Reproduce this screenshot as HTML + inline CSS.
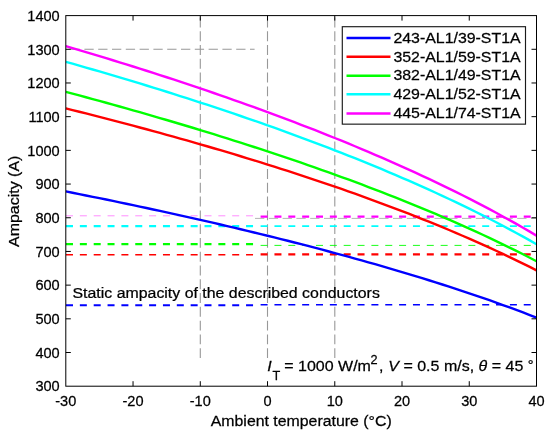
<!DOCTYPE html>
<html><head><meta charset="utf-8"><title>Ampacity</title>
<style>html,body{margin:0;padding:0;background:#fff}svg{display:block}text{stroke:#000;stroke-width:0.25px;font-family:"Liberation Sans",Arial,sans-serif;fill:#000}</style></head><body>
<svg width="550" height="431" viewBox="0 0 550 431">
<rect width="550" height="431" fill="#fff"/>
<line x1="200.3" y1="358.1" x2="200.3" y2="15.6" stroke="#989898" stroke-width="1.1" fill="none" stroke-dasharray="9.9 3.88"/>
<line x1="267.5" y1="358.1" x2="267.5" y2="15.6" stroke="#989898" stroke-width="1.1" fill="none" stroke-dasharray="9.9 3.88"/>
<line x1="334.8" y1="358.1" x2="334.8" y2="15.6" stroke="#989898" stroke-width="1.1" fill="none" stroke-dasharray="9.9 3.88"/>
<line x1="65.8" y1="49.3" x2="254.6" y2="49.3" stroke="#989898" stroke-width="1.1" fill="none" stroke-dasharray="9.3 4.5" stroke-dashoffset="9.0"/>
<line x1="255" y1="218.4" x2="536.5" y2="218.4" stroke="#b4b4b4" stroke-width="1" stroke-dasharray="9.3 4.5"/>
<line x1="66" y1="215.8" x2="256.5" y2="215.8" stroke="#ff00ff" stroke-width="1.0" stroke-opacity="0.45" stroke-dasharray="7 6.85" stroke-dashoffset="0"/>
<line x1="260.6" y1="216.6" x2="536.5" y2="216.6" stroke="#ff00ff" stroke-width="2.2" stroke-opacity="1" stroke-dasharray="7 6.85" stroke-dashoffset="0"/>
<line x1="66" y1="226.2" x2="256.5" y2="226.2" stroke="#00ffff" stroke-width="2.2" stroke-opacity="1" stroke-dasharray="7 6.85" stroke-dashoffset="0"/>
<line x1="260.6" y1="226.2" x2="536.5" y2="226.2" stroke="#00ffff" stroke-width="1.7" stroke-opacity="1" stroke-dasharray="7 6.85" stroke-dashoffset="0"/>
<line x1="66" y1="244.2" x2="256.5" y2="244.2" stroke="#00ff00" stroke-width="2.2" stroke-opacity="1" stroke-dasharray="7 6.85" stroke-dashoffset="0"/>
<line x1="260.6" y1="245.4" x2="536.5" y2="245.4" stroke="#00ff00" stroke-width="0.9" stroke-opacity="1" stroke-dasharray="7 6.85" stroke-dashoffset="0"/>
<line x1="66" y1="254.8" x2="256.5" y2="254.8" stroke="#ff0000" stroke-width="1.5" stroke-opacity="1" stroke-dasharray="7 6.85" stroke-dashoffset="0"/>
<line x1="260.6" y1="254.3" x2="536.5" y2="254.3" stroke="#ff0000" stroke-width="2.2" stroke-opacity="1" stroke-dasharray="7 6.85" stroke-dashoffset="0"/>
<line x1="66" y1="305.2" x2="256.5" y2="305.2" stroke="#0000ff" stroke-width="2.0" stroke-opacity="1" stroke-dasharray="7 6.85" stroke-dashoffset="0"/>
<line x1="260.6" y1="304.8" x2="536.5" y2="304.8" stroke="#0000ff" stroke-width="1.5" stroke-opacity="1" stroke-dasharray="7 6.85" stroke-dashoffset="0"/>
<clipPath id="cp"><rect x="65.8" y="15.6" width="470.7" height="370.59999999999997"/></clipPath>
<g clip-path="url(#cp)" fill="none" stroke-width="2.4" stroke-linejoin="round">
<path d="M65.80,191.42 L72.52,192.76 L79.25,194.10 L85.97,195.45 L92.70,196.81 L99.42,198.18 L106.15,199.55 L112.87,200.94 L119.59,202.34 L126.32,203.74 L133.04,205.16 L139.77,206.58 L146.49,208.02 L153.22,209.46 L159.94,210.92 L166.66,212.38 L173.39,213.86 L180.11,215.35 L186.84,216.85 L193.56,218.36 L200.29,219.88 L207.01,221.41 L213.73,222.95 L220.46,224.51 L227.18,226.08 L233.91,227.66 L240.63,229.25 L247.36,230.86 L254.08,232.48 L260.80,234.11 L267.53,235.76 L274.25,237.42 L280.98,239.09 L287.70,240.78 L294.43,242.49 L301.15,244.21 L307.87,245.94 L314.60,247.69 L321.32,249.46 L328.05,251.24 L334.77,253.04 L341.50,254.85 L348.22,256.69 L354.94,258.54 L361.67,260.41 L368.39,262.30 L375.12,264.21 L381.84,266.14 L388.57,268.09 L395.29,270.06 L402.01,272.05 L408.74,274.06 L415.46,276.10 L422.19,278.16 L428.91,280.25 L435.64,282.35 L442.36,284.49 L449.08,286.65 L455.81,288.84 L462.53,291.06 L469.26,293.30 L475.98,295.58 L482.71,297.89 L489.43,300.23 L496.15,302.61 L502.88,305.02 L509.60,307.46 L516.33,309.95 L523.05,312.47 L529.78,315.04 L536.50,317.64" stroke="#0000ff"/>
<path d="M65.80,108.37 L72.52,110.04 L79.25,111.73 L85.97,113.43 L92.70,115.14 L99.42,116.86 L106.15,118.60 L112.87,120.35 L119.59,122.11 L126.32,123.88 L133.04,125.67 L139.77,127.47 L146.49,129.28 L153.22,131.11 L159.94,132.95 L166.66,134.81 L173.39,136.68 L180.11,138.57 L186.84,140.47 L193.56,142.38 L200.29,144.32 L207.01,146.26 L213.73,148.23 L220.46,150.21 L227.18,152.20 L233.91,154.21 L240.63,156.24 L247.36,158.29 L254.08,160.36 L260.80,162.44 L267.53,164.54 L274.25,166.66 L280.98,168.80 L287.70,170.96 L294.43,173.14 L301.15,175.34 L307.87,177.56 L314.60,179.80 L321.32,182.06 L328.05,184.35 L334.77,186.66 L341.50,188.99 L348.22,191.35 L354.94,193.73 L361.67,196.13 L368.39,198.56 L375.12,201.02 L381.84,203.51 L388.57,206.02 L395.29,208.56 L402.01,211.13 L408.74,213.73 L415.46,216.36 L422.19,219.02 L428.91,221.72 L435.64,224.45 L442.36,227.21 L449.08,230.01 L455.81,232.85 L462.53,235.73 L469.26,238.64 L475.98,241.60 L482.71,244.60 L489.43,247.64 L496.15,250.73 L502.88,253.87 L509.60,257.06 L516.33,260.30 L523.05,263.59 L529.78,266.94 L536.50,270.35" stroke="#ff0000"/>
<path d="M65.80,91.81 L72.52,93.61 L79.25,95.41 L85.97,97.23 L92.70,99.06 L99.42,100.90 L106.15,102.75 L112.87,104.61 L119.59,106.49 L126.32,108.38 L133.04,110.28 L139.77,112.20 L146.49,114.13 L153.22,116.07 L159.94,118.03 L166.66,120.00 L173.39,121.98 L180.11,123.98 L186.84,125.99 L193.56,128.02 L200.29,130.07 L207.01,132.13 L213.73,134.20 L220.46,136.29 L227.18,138.40 L233.91,140.52 L240.63,142.66 L247.36,144.82 L254.08,146.99 L260.80,149.19 L267.53,151.40 L274.25,153.63 L280.98,155.87 L287.70,158.14 L294.43,160.43 L301.15,162.74 L307.87,165.06 L314.60,167.41 L321.32,169.78 L328.05,172.18 L334.77,174.59 L341.50,177.03 L348.22,179.49 L354.94,181.97 L361.67,184.48 L368.39,187.02 L375.12,189.58 L381.84,192.17 L388.57,194.78 L395.29,197.43 L402.01,200.10 L408.74,202.80 L415.46,205.53 L422.19,208.30 L428.91,211.09 L435.64,213.92 L442.36,216.78 L449.08,219.68 L455.81,222.62 L462.53,225.59 L469.26,228.60 L475.98,231.66 L482.71,234.75 L489.43,237.89 L496.15,241.08 L502.88,244.31 L509.60,247.59 L516.33,250.92 L523.05,254.30 L529.78,257.74 L536.50,261.24" stroke="#00ff00"/>
<path d="M65.80,61.81 L72.52,63.71 L79.25,65.63 L85.97,67.55 L92.70,69.49 L99.42,71.45 L106.15,73.41 L112.87,75.40 L119.59,77.39 L126.32,79.40 L133.04,81.42 L139.77,83.46 L146.49,85.52 L153.22,87.59 L159.94,89.67 L166.66,91.77 L173.39,93.89 L180.11,96.02 L186.84,98.17 L193.56,100.33 L200.29,102.52 L207.01,104.72 L213.73,106.93 L220.46,109.17 L227.18,111.42 L233.91,113.70 L240.63,115.99 L247.36,118.30 L254.08,120.63 L260.80,122.98 L267.53,125.35 L274.25,127.74 L280.98,130.15 L287.70,132.59 L294.43,135.04 L301.15,137.52 L307.87,140.03 L314.60,142.55 L321.32,145.10 L328.05,147.68 L334.77,150.27 L341.50,152.90 L348.22,155.55 L354.94,158.23 L361.67,160.94 L368.39,163.67 L375.12,166.44 L381.84,169.23 L388.57,172.05 L395.29,174.91 L402.01,177.80 L408.74,180.72 L415.46,183.68 L422.19,186.67 L428.91,189.70 L435.64,192.76 L442.36,195.86 L449.08,199.01 L455.81,202.19 L462.53,205.42 L469.26,208.69 L475.98,212.01 L482.71,215.37 L489.43,218.79 L496.15,222.25 L502.88,225.77 L509.60,229.34 L516.33,232.97 L523.05,236.66 L529.78,240.41 L536.50,244.23" stroke="#00ffff"/>
<path d="M65.80,46.14 L72.52,48.12 L79.25,50.10 L85.97,52.10 L92.70,54.12 L99.42,56.15 L106.15,58.19 L112.87,60.25 L119.59,62.32 L126.32,64.40 L133.04,66.51 L139.77,68.62 L146.49,70.76 L153.22,72.90 L159.94,75.07 L166.66,77.25 L173.39,79.45 L180.11,81.66 L186.84,83.89 L193.56,86.14 L200.29,88.41 L207.01,90.69 L213.73,92.99 L220.46,95.32 L227.18,97.66 L233.91,100.02 L240.63,102.39 L247.36,104.79 L254.08,107.21 L260.80,109.65 L267.53,112.12 L274.25,114.60 L280.98,117.11 L287.70,119.63 L294.43,122.18 L301.15,124.76 L307.87,127.36 L314.60,129.98 L321.32,132.63 L328.05,135.30 L334.77,138.00 L341.50,140.73 L348.22,143.48 L354.94,146.26 L361.67,149.08 L368.39,151.92 L375.12,154.79 L381.84,157.69 L388.57,160.62 L395.29,163.59 L402.01,166.59 L408.74,169.62 L415.46,172.70 L422.19,175.80 L428.91,178.95 L435.64,182.13 L442.36,185.36 L449.08,188.62 L455.81,191.93 L462.53,195.28 L469.26,198.68 L475.98,202.13 L482.71,205.63 L489.43,209.17 L496.15,212.77 L502.88,216.43 L509.60,220.14 L516.33,223.91 L523.05,227.75 L529.78,231.65 L536.50,235.62" stroke="#ff00ff"/>
</g>
<rect x="65.8" y="15.6" width="470.7" height="370.59999999999997" stroke="#000" stroke-width="1" fill="none"/>
<path d="M133.04,386.2v-5M133.04,15.6v5M200.29,386.2v-5M200.29,15.6v5M267.53,386.2v-5M267.53,15.6v5M334.77,386.2v-5M334.77,15.6v5M402.01,386.2v-5M402.01,15.6v5M469.26,386.2v-5M469.26,15.6v5M65.8,352.51h5M536.5,352.51h-5M65.8,318.82h5M536.5,318.82h-5M65.8,285.13h5M536.5,285.13h-5M65.8,251.44h5M536.5,251.44h-5M65.8,217.75h5M536.5,217.75h-5M65.8,184.05h5M536.5,184.05h-5M65.8,150.36h5M536.5,150.36h-5M65.8,116.67h5M536.5,116.67h-5M65.8,82.98h5M536.5,82.98h-5M65.8,49.29h5M536.5,49.29h-5" stroke="#000" stroke-width="1" fill="none"/>
<text transform="translate(59.7,391.4) scale(0.985,1)" font-size="14.8" text-anchor="end">300</text>
<text transform="translate(59.7,357.7) scale(0.985,1)" font-size="14.8" text-anchor="end">400</text>
<text transform="translate(59.7,324.0) scale(0.985,1)" font-size="14.8" text-anchor="end">500</text>
<text transform="translate(59.7,290.3) scale(0.985,1)" font-size="14.8" text-anchor="end">600</text>
<text transform="translate(59.7,256.6) scale(0.985,1)" font-size="14.8" text-anchor="end">700</text>
<text transform="translate(59.7,222.9) scale(0.985,1)" font-size="14.8" text-anchor="end">800</text>
<text transform="translate(59.7,189.3) scale(0.985,1)" font-size="14.8" text-anchor="end">900</text>
<text transform="translate(59.7,155.6) scale(0.985,1)" font-size="14.8" text-anchor="end">1000</text>
<text transform="translate(59.7,121.9) scale(0.985,1)" font-size="14.8" text-anchor="end">1100</text>
<text transform="translate(59.7,88.2) scale(0.985,1)" font-size="14.8" text-anchor="end">1200</text>
<text transform="translate(59.7,54.5) scale(0.985,1)" font-size="14.8" text-anchor="end">1300</text>
<text transform="translate(59.7,20.8) scale(0.985,1)" font-size="14.8" text-anchor="end">1400</text>
<text transform="translate(65.8,405.6) scale(0.985,1)" font-size="14.8" text-anchor="middle">-30</text>
<text transform="translate(133.0,405.6) scale(0.985,1)" font-size="14.8" text-anchor="middle">-20</text>
<text transform="translate(200.3,405.6) scale(0.985,1)" font-size="14.8" text-anchor="middle">-10</text>
<text transform="translate(267.5,405.6) scale(0.985,1)" font-size="14.8" text-anchor="middle">0</text>
<text transform="translate(334.8,405.6) scale(0.985,1)" font-size="14.8" text-anchor="middle">10</text>
<text transform="translate(402.0,405.6) scale(0.985,1)" font-size="14.8" text-anchor="middle">20</text>
<text transform="translate(469.3,405.6) scale(0.985,1)" font-size="14.8" text-anchor="middle">30</text>
<text transform="translate(536.5,405.6) scale(0.985,1)" font-size="14.8" text-anchor="middle">40</text>
<text transform="translate(301.2,425.7) scale(1.038,1)" font-size="15.3" text-anchor="middle">Ambient temperature (°C)</text>
<text transform="translate(19.1,201.3) rotate(-90) scale(1.05,1)" font-size="15.2" text-anchor="middle">Ampacity (A)</text>
<text transform="translate(72.5,297.5) scale(1.039,1)" font-size="15.3" text-anchor="start">Static ampacity of the described conductors</text>
<text transform="translate(267.3,371.3) scale(1.04,1)" font-size="15.4" text-anchor="start" font-style="italic">I</text>
<text transform="translate(272.4,379.5) scale(1.04,1)" font-size="12.2" text-anchor="start">T</text>
<text transform="translate(284.2,371.3) scale(1.04,1)" font-size="15.4" text-anchor="start">= 1000 W/m</text>
<text transform="translate(370.6,363.6) scale(1.04,1)" font-size="12.2" text-anchor="start">2</text>
<text transform="translate(379.0,371.3) scale(1.04,1)" font-size="15.4" text-anchor="start">,</text>
<text transform="translate(533.6,371.3) scale(1.04,1)" font-size="15.4" text-anchor="end"><tspan font-style="italic">V</tspan> = 0.5 m/s, <tspan font-style="italic">θ</tspan> = 45 <tspan dy="-0.9" font-size="14">°</tspan></text>
<rect x="342.3" y="26.7" width="183.2" height="97.45" fill="#fff" stroke="#1a1a1a" stroke-width="1.15"/>
<line x1="346.5" y1="38.1" x2="390.5" y2="38.1" stroke="#0000ff" stroke-width="2.5"/>
<text transform="translate(393.4,43.3) scale(1.026,1)" font-size="15.5" text-anchor="start">243-AL1/39-ST1A</text>
<line x1="346.5" y1="56.8" x2="390.5" y2="56.8" stroke="#ff0000" stroke-width="2.5"/>
<text transform="translate(393.4,62.2) scale(1.026,1)" font-size="15.5" text-anchor="start">352-AL1/59-ST1A</text>
<line x1="346.5" y1="75.7" x2="390.5" y2="75.7" stroke="#00ff00" stroke-width="2.5"/>
<text transform="translate(393.4,80.4) scale(1.026,1)" font-size="15.5" text-anchor="start">382-AL1/49-ST1A</text>
<line x1="346.5" y1="94.3" x2="390.5" y2="94.3" stroke="#00ffff" stroke-width="2.5"/>
<text transform="translate(393.4,99.4) scale(1.026,1)" font-size="15.5" text-anchor="start">429-AL1/52-ST1A</text>
<line x1="346.5" y1="113.4" x2="390.5" y2="113.4" stroke="#ff00ff" stroke-width="2.5"/>
<text transform="translate(393.4,118.4) scale(1.026,1)" font-size="15.5" text-anchor="start">445-AL1/74-ST1A</text>
</svg></body></html>
